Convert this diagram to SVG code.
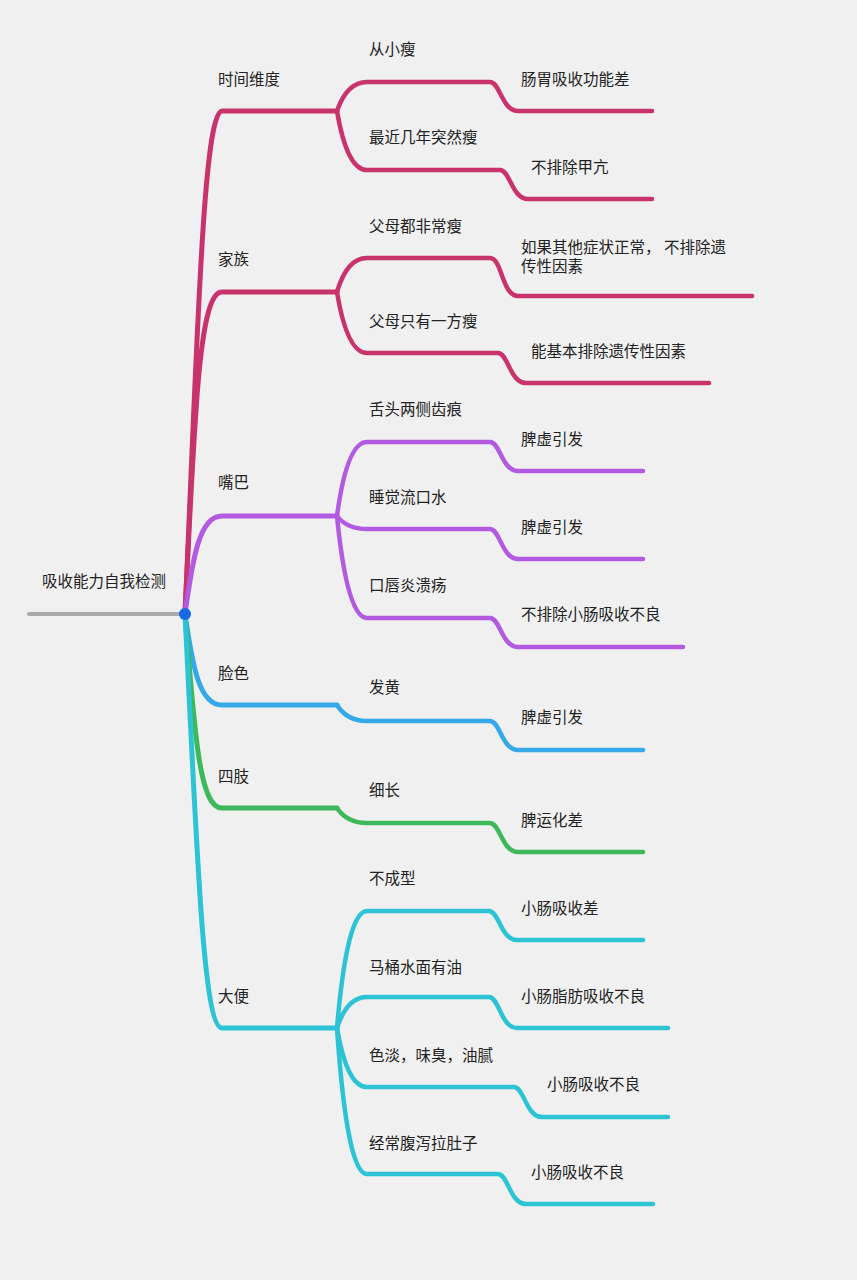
<svg xmlns="http://www.w3.org/2000/svg" width="857" height="1280" viewBox="0 0 857 1280">
<style>
text{font-family:"Noto Sans CJK SC","Noto Sans",sans-serif;font-size:15.5px;fill:#222}
.c{fill:none;stroke-linecap:round;stroke-linejoin:round}
.l1{stroke-width:5}
.l2{stroke-width:4.5}
.pk{stroke:#c8336b}.pu{stroke:#b25ae0}.bl{stroke:#35a9e8}.gr{stroke:#3db85a}.cy{stroke:#2cc3d5}
</style>
<rect width="857" height="1280" fill="#f0f0f0"/>
<g id="connectors">
<path class="c" stroke="#aaaaaa" stroke-width="4" d="M29,614 H185"/>
<!-- pink -->
<path class="c l1 pk" d="M185,614 C197,350 203,111 222,111 H337"/>
<path class="c l2 pk" d="M337,111 Q347,82 367,82 H490 C500,82 502,111 518,111 H652"/>
<path class="c l2 pk" d="M337,111 Q347,170 367,170 H500 C510,170 512,199 528,199 H652"/>
<path class="c l1 pk" d="M185,614 C195,400 200,292 222,292 H337"/>
<path class="c l2 pk" d="M337,292 Q347,258 367,258 H490 C502,258 502,296 518,296 H752"/>
<path class="c l2 pk" d="M337,292 Q347,353 367,353 H498 C508,353 510,383 526,383 H709"/>
<!-- purple -->
<path class="c l1 pu" d="M185,614 C193,555 200,516 222,516 H337"/>
<path class="c l2 pu" d="M337,516 Q347,442 367,442 H490 C500,442 502,471 518,471 H643"/>
<path class="c l2 pu" d="M337,516 Q347,529 367,529 H490 C500,529 502,559 518,559 H643"/>
<path class="c l2 pu" d="M337,516 Q347,618 367,618 H490 C500,618 502,647 518,647 H683"/>
<!-- blue -->
<path class="c l1 bl" d="M185,614 C193,670 200,705 222,705 H337"/>
<path class="c l2 bl" d="M337,705 Q347,721 367,721 H490 C500,721 502,750 518,750 H643"/>
<!-- green -->
<path class="c l1 gr" d="M185,614 C195,740 200,808 222,808 H337"/>
<path class="c l2 gr" d="M337,808 Q347,823 367,823 H490 C500,823 502,852 518,852 H643"/>
<!-- cyan -->
<path class="c l1 cy" d="M185,614 C197,850 203,1028 222,1028 H337"/>
<path class="c l2 cy" d="M337,1028 Q347,911 367,911 H489 C499,911 501,940 517,940 H643"/>
<path class="c l2 cy" d="M337,1028 Q347,997 367,997 H489 C499,997 501,1028 517,1028 H668"/>
<path class="c l2 cy" d="M337,1028 Q347,1087 367,1087 H514 C524,1087 526,1117 542,1117 H668"/>
<path class="c l2 cy" d="M337,1028 Q347,1174 367,1174 H498 C508,1174 510,1204 526,1204 H653"/>
</g>
<g id="root"><circle cx="185" cy="614" r="6" fill="#1769e6"/><text x="42" y="587">吸收能力自我检测</text></g>
<g id="n-time"><text x="218" y="84.5">时间维度</text></g>
<g id="n-time-1"><text x="369" y="55">从小瘦</text></g>
<g id="n-time-1-1"><text x="521" y="84.5">肠胃吸收功能差</text></g>
<g id="n-time-2"><text x="369" y="143">最近几年突然瘦</text></g>
<g id="n-time-2-1"><text x="531" y="173">不排除甲亢</text></g>
<g id="n-family"><text x="218" y="265">家族</text></g>
<g id="n-family-1"><text x="369" y="232">父母都非常瘦</text></g>
<g id="n-family-1-1"><text x="521" y="253">如果其他症状正常， 不排除遗</text><text x="521" y="271.5">传性因素</text></g>
<g id="n-family-2"><text x="369" y="327">父母只有一方瘦</text></g>
<g id="n-family-2-1"><text x="531" y="356.5">能基本排除遗传性因素</text></g>
<g id="n-mouth"><text x="218" y="488">嘴巴</text></g>
<g id="n-mouth-1"><text x="369" y="415">舌头两侧齿痕</text></g>
<g id="n-mouth-1-1"><text x="521" y="444.5">脾虚引发</text></g>
<g id="n-mouth-2"><text x="369" y="503">睡觉流口水</text></g>
<g id="n-mouth-2-1"><text x="521" y="532.5">脾虚引发</text></g>
<g id="n-mouth-3"><text x="369" y="591">口唇炎溃疡</text></g>
<g id="n-mouth-3-1"><text x="521" y="620">不排除小肠吸收不良</text></g>
<g id="n-face"><text x="218" y="679">脸色</text></g>
<g id="n-face-1"><text x="369" y="693">发黄</text></g>
<g id="n-face-1-1"><text x="521" y="722.5">脾虚引发</text></g>
<g id="n-limbs"><text x="218" y="782">四肢</text></g>
<g id="n-limbs-1"><text x="369" y="796">细长</text></g>
<g id="n-limbs-1-1"><text x="521" y="825.5">脾运化差</text></g>
<g id="n-stool"><text x="218" y="1002">大便</text></g>
<g id="n-stool-1"><text x="369" y="884">不成型</text></g>
<g id="n-stool-1-1"><text x="521" y="914">小肠吸收差</text></g>
<g id="n-stool-2"><text x="369" y="973">马桶水面有油</text></g>
<g id="n-stool-2-1"><text x="521" y="1002">小肠脂肪吸收不良</text></g>
<g id="n-stool-3"><text x="369" y="1061">色淡，味臭，油腻</text></g>
<g id="n-stool-3-1"><text x="547" y="1090">小肠吸收不良</text></g>
<g id="n-stool-4"><text x="369" y="1149">经常腹泻拉肚子</text></g>
<g id="n-stool-4-1"><text x="531" y="1178">小肠吸收不良</text></g>
</svg>
